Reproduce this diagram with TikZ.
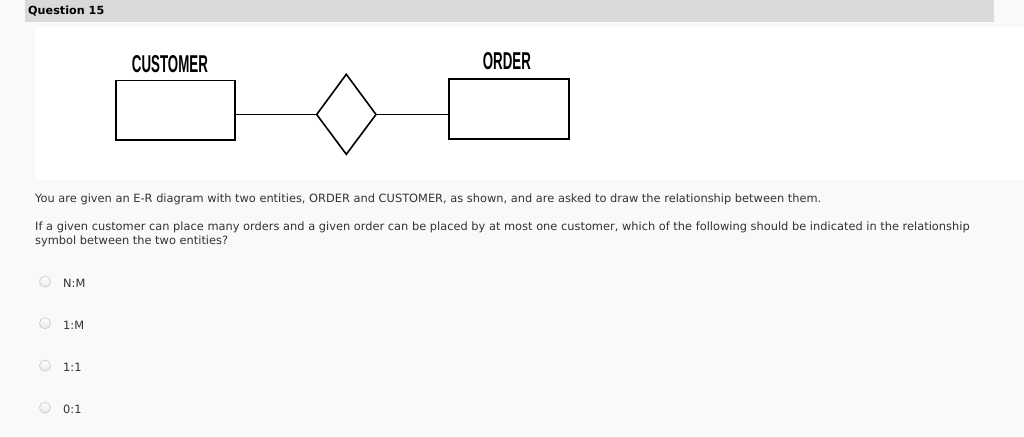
\documentclass[tikz,border=0pt]{standalone}
\usepackage{fontspec}
\setmainfont{DejaVu Sans}
\newfontfamily\labfont{Liberation Sans}
\definecolor{pagebg}{HTML}{F9F9F9}
\definecolor{headbg}{HTML}{D9D9D9}
\definecolor{txt}{HTML}{333333}
\begin{document}
\begin{tikzpicture}[x=1pt,y=-1pt,
  body/.style={anchor=base west, inner sep=0, text=txt, font=\fontsize{11.4}{14}\selectfont},
  entity/.style={draw=black, line width=1.6pt, inner sep=0},
  conn/.style={draw=black, line width=1.6pt},
  radio/.style={circle, draw=gray!45, top color=white, bottom color=gray!18, minimum size=11pt, inner sep=0, line width=0.6pt}]
\fill[pagebg] (0,0) rectangle (1024,436);
\useasboundingbox (0,0) rectangle (1024,436);
\fill[headbg] (25,0) rectangle (994,22);
\fill[white] (35,27) rectangle (1024,180);
\node[anchor=base west, inner sep=0, font=\fontsize{11.2}{13}\selectfont\bfseries] (q) at (28,15) {Question 15};
% diagram
\node[anchor=base west, inner sep=0] (lc) at (131.7,72) {\resizebox{76pt}{17pt}{\labfont\bfseries CUSTOMER}};
\node[anchor=base west, inner sep=0] (lo) at (482.7,69.3) {\resizebox{48pt}{17pt}{\labfont\bfseries ORDER}};
\node[entity, minimum width=119pt, minimum height=59.3pt] (cust) at (175.5,110.3) {};
\node[entity, minimum width=120pt, minimum height=60pt] (ord) at (509,109) {};
\coordinate (dw) at (316.7,114.5);
\coordinate (de) at (376,114.5);
\coordinate (dn) at (346.3,74.3);
\coordinate (ds) at (346.3,154.3);
\draw[conn, line join=miter] (dw) -- (dn) -- (de) -- (ds) -- cycle;
\coordinate (cl) at (cust.east |- dw);
\coordinate (ol) at (ord.west |- de);
\draw[conn] (cl) -- (dw);
\draw[conn] (de) -- (ol);
% text
\node[body] (t1) at (35,202) {You are given an E-R diagram with two entities, ORDER and CUSTOMER, as shown, and are asked to draw the relationship between them.};
\node[body] (t2) at (35,230.5) {If a given customer can place many orders and a given order can be placed by at most one customer, which of the following should be indicated in the relationship};
\node[body] (t3) at (35,244.5) {symbol between the two entities?};
% options
\node[radio] (r1) at (45,281.7) {};
\node[radio] (r2) at (45,323.3) {};
\node[radio] (r3) at (45,365.7) {};
\node[radio] (r4) at (45,407.7) {};
\node[body] (o1) at (63,287.5) {N:M};
\node[body] (o2) at (63,329.5) {1:M};
\node[body] (o3) at (63,371.5) {1:1};
\node[body] (o4) at (63,413.5) {0:1};
\end{tikzpicture}
\end{document}
